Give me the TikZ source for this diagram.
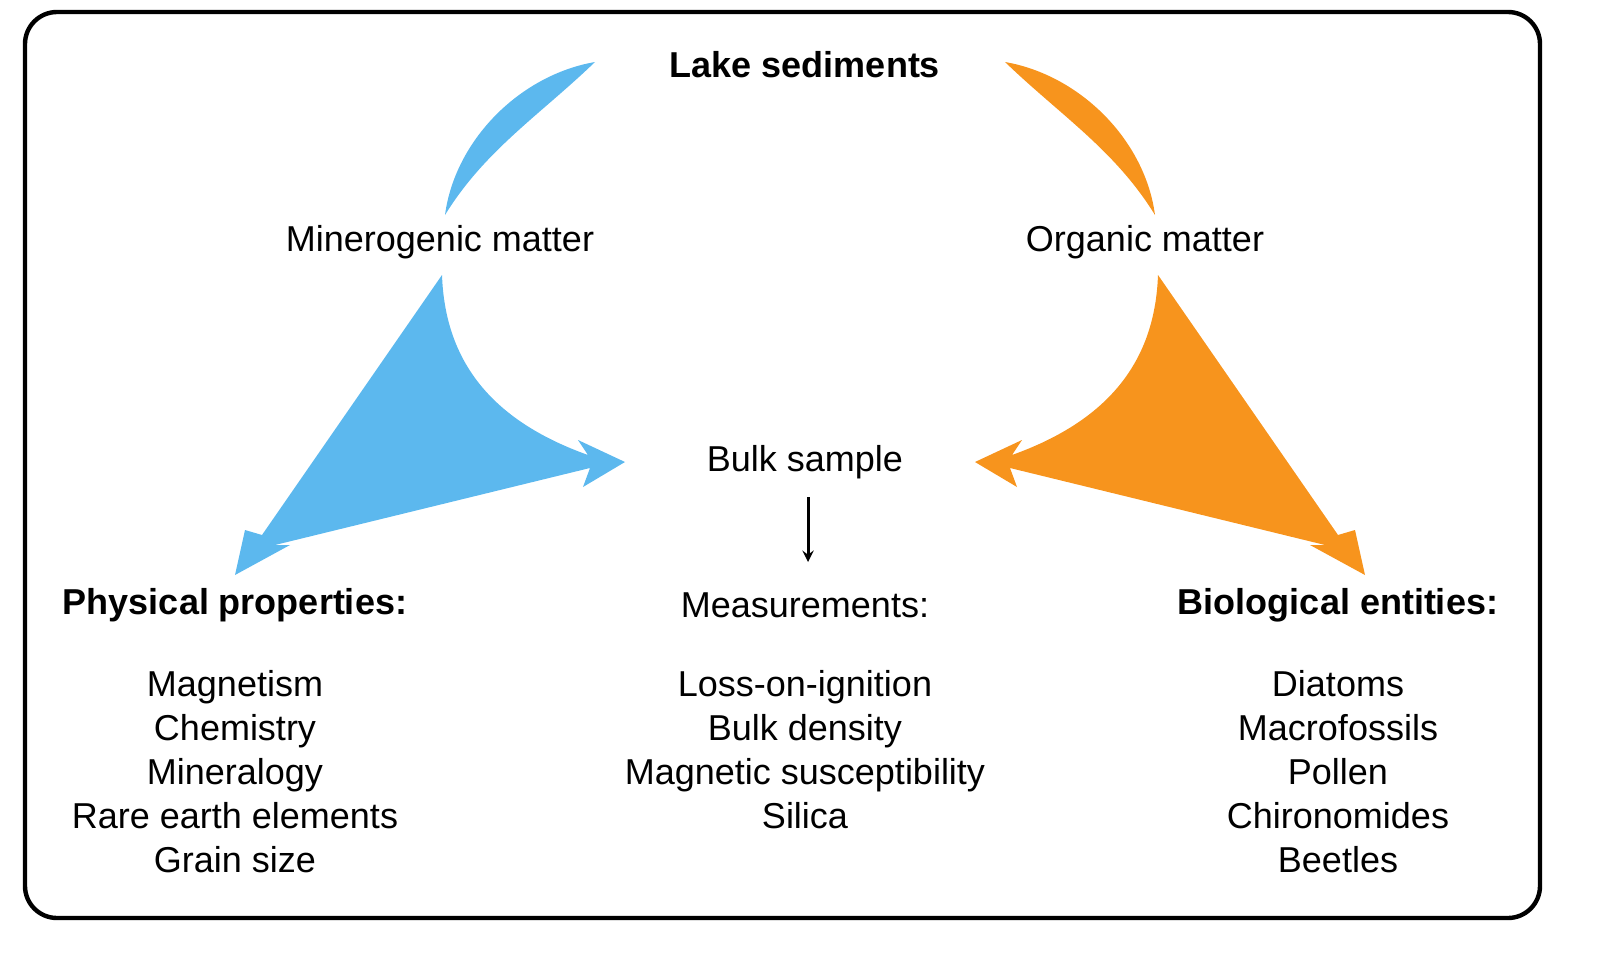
\documentclass[tikz,border=0pt]{standalone}
\usepackage{fontspec}
\setmainfont{Liberation Sans}
\definecolor{mblue}{HTML}{5CB8EE}
\definecolor{morange}{HTML}{F7941D}
\begin{document}
\begin{tikzpicture}[x=0.5pt,y=-0.5pt,
  txt/.style={font=\fontsize{18}{21}\selectfont, inner sep=0pt},
  hd/.style={txt, font=\fontsize{18}{21}\selectfont\bfseries},
  lst/.style={txt, align=center, font=\fontsize{18}{22}\selectfont}]
\useasboundingbox (0,0) rectangle (1614,954);
\draw[line width=2.2pt, rounded corners=16pt] (25,12) rectangle (1540,918);
\def\halfshapes#1{%
\fill[#1] (595,62) .. controls (520,75) and (455,140) .. (445,215)
   .. controls (485,150) and (540,115) .. (595,62) -- cycle;
\fill[#1] (442,275) -- (262,535) -- (245,530) -- (235,575) -- (290,545) -- (275,545)
   -- (590,468) -- (583,487) -- (625,462) -- (578,440) -- (588,455)
   .. controls (490,420) and (445,360) .. (442,275) -- cycle;}
\halfshapes{mblue}
\begin{scope}[xshift=800pt,xscale=-1]
\halfshapes{morange}
\end{scope}
\node[hd] (ls) at (805,65) {Lake sediments};
\node[txt] (mm) at (440,242) {Minerogenic matter};
\node[txt] (om) at (1145,242) {Organic matter};
\node[txt] (bs) at (805,462) {Bulk sample};
\node[txt] (me) at (805,605) {Measurements:};
\coordinate (a1) at (808,497);
\coordinate (a2) at (808,562);
\draw[-stealth, line width=1.5pt] (a1) -- (a2);
\node[hd] (pp) at (235,605) {Physical properties:};
\node[hd] (be) at (1338,605) {Biological entities:};
\node[lst, anchor=north] (l1) at (235,670) {Magnetism\\Chemistry\\Mineralogy\\Rare earth elements\\Grain size};
\node[lst, anchor=north] (l2) at (805,670) {Loss-on-ignition\\Bulk density\\Magnetic susceptibility\\Silica};
\node[lst, anchor=north] (l3) at (1338,670) {Diatoms\\Macrofossils\\Pollen\\Chironomides\\Beetles};
\end{tikzpicture}
\end{document}
